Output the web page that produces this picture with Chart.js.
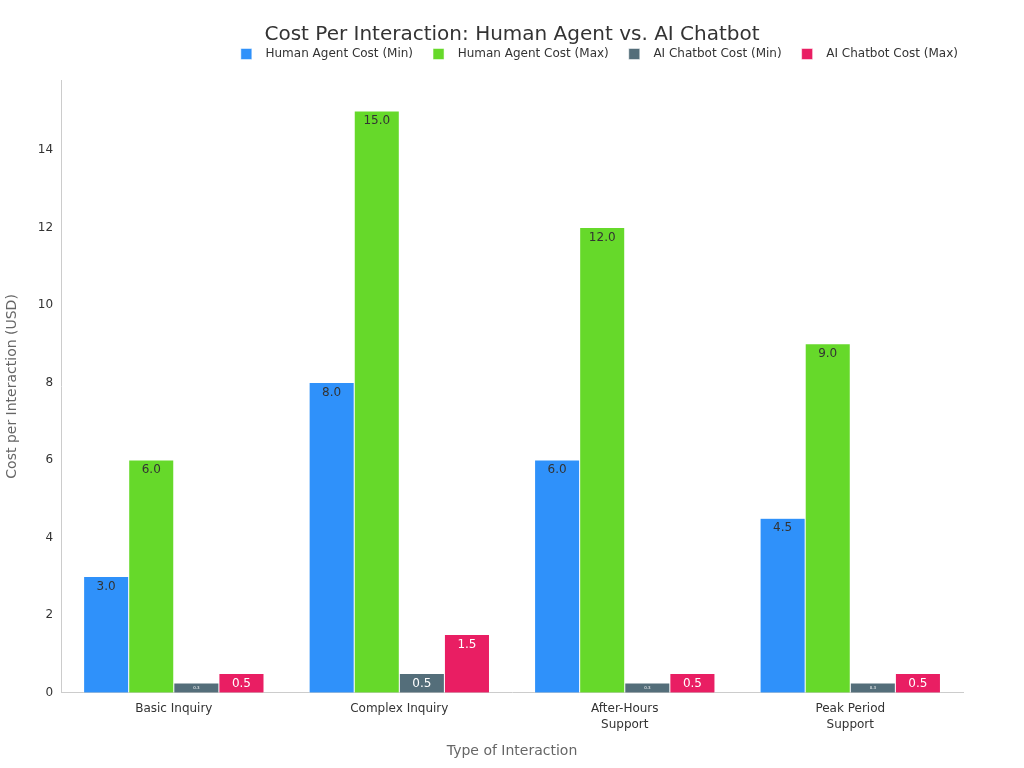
<!DOCTYPE html>
<html>
<head>
<meta charset="utf-8">
<script src="https://cdn.jsdelivr.net/npm/chart.js@4.4.1/dist/chart.umd.min.js"></script>
<style>
  html, body { margin: 0; padding: 0; background: #fff; }
  #wrap { width: 1024px; height: 768px; position: relative; }
</style>
</head>
<body>
<div id="wrap"><canvas id="chart"></canvas></div>
<script>
// data
const categories = [["Basic Inquiry"], ["Complex Inquiry"], ["After-Hours", "Support"], ["Peak Period", "Support"]];
const humanMin = [3.0, 8.0, 6.0, 4.5];
const humanMax = [6.0, 15.0, 12.0, 9.0];
const botMin = [0.25, 0.5, 0.25, 0.25];
const botMax = [0.5, 1.5, 0.5, 0.5];

const seriesNames = ["Human Agent Cost (Min)", "Human Agent Cost (Max)", "AI Chatbot Cost (Min)", "AI Chatbot Cost (Max)"];
const seriesColors = ["#2f91fa", "#66d92a", "#546e7a", "#e91e63"];
const labelColors = ["#333333", "#333333", "#ffffff", "#ffffff"];

Chart.defaults.font.family = "'DejaVu Sans', sans-serif";
Chart.defaults.color = "#333";

// draws value inside top of each bar
const barLabels = {
  id: "barLabels",
  afterDatasetsDraw(chart) {
    const ctx = chart.ctx;
    ctx.save();
    ctx.textAlign = "center";
    ctx.textBaseline = "middle";
    chart.data.datasets.forEach((ds, i) => {
      const meta = chart.getDatasetMeta(i);
      meta.data.forEach((bar, j) => {
        const { x, y, base } = bar.getProps(["x", "y", "base"], true);
        const h = base - y;
        const size = h < 14 ? 4 : 12;
        ctx.font = size + "px 'DejaVu Sans', sans-serif";
        ctx.fillStyle = labelColors[i];
        const ty = h < 14 ? y + h / 2 : y + 10;
        ctx.fillText(ds.data[j].toFixed(1), x, ty);
      });
    });
    ctx.restore();
  }
};

const allSeries = [humanMin, humanMax, botMin, botMax];

// empty spacer axes, only to push the plot area in
const spacer = (size, key) => ({
  display: true,
  grid: { display: false, drawTicks: false },
  border: { display: false },
  ticks: { display: false },
  afterFit(s) { s[key] = size; }
});

new Chart(document.getElementById("chart"), {
  type: "bar",
  data: {
    labels: categories,
    datasets: allSeries.map((vals, i) => ({
      label: seriesNames[i],
      data: vals,
      backgroundColor: seriesColors[i],
      borderColor: "#ffffff",
      borderWidth: 0.5,
      categoryPercentage: 0.8,
      barPercentage: 1.0
    }))
  },
  options: {
    responsive: true,
    maintainAspectRatio: false,
    animation: false,
    layout: { padding: { left: 0, right: 46, top: 10, bottom: 4 } },
    plugins: {
      title: {
        display: true,
        fullSize: false,
        text: "Cost Per Interaction: Human Agent vs. AI Chatbot",
        color: "#333",
        font: { size: 20, weight: "normal" },
        padding: { top: 13, bottom: -19 }
      },
      legend: {
        position: "top",
        align: "end",
        labels: {
          boxWidth: 11,
          boxHeight: 11,
          padding: 20,
          color: "#333",
          font: { size: 12 },
          generateLabels(chart) {
            return Chart.defaults.plugins.legend.labels.generateLabels(chart).map(l => {
              l.text = "  " + l.text;
              return l;
            });
          }
        }
      },
      tooltip: { enabled: false }
    },
    scales: {
      x: {
        grid: { display: false, drawTicks: true, tickLength: 6 },
        border: { color: "#cccccc" },
        ticks: { color: "#333", font: { size: 12, lineHeight: 1.35 }, padding: 2 },
        title: {
          display: true,
          text: "Type of Interaction",
          color: "#666",
          font: { size: 14 },
          padding: { top: 8 }
        }
      },
      xTop: Object.assign({ position: "top" }, spacer(10, "height")),
      y: {
        min: 0,
        max: 15.8,
        grid: { display: false, drawTicks: true, tickLength: 5 },
        border: { color: "#cccccc" },
        ticks: {
          stepSize: 2,
          color: "#333",
          font: { size: 12 },
          callback: (v) => (v % 2 === 0 ? v : "")
        },
        title: {
          display: true,
          text: "Cost per Interaction (USD)",
          color: "#666",
          font: { size: 14 },
          padding: { bottom: 14 }
        }
      },
      yRight: Object.assign({ position: "right" }, spacer(15, "width"))
    }
  },
  plugins: [barLabels]
});
</script>
</body>
</html>
